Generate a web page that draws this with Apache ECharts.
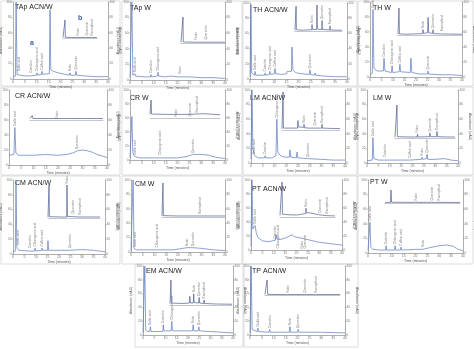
<!DOCTYPE html>
<html><head><meta charset="utf-8">
<script src="https://cdn.jsdelivr.net/npm/echarts/dist/echarts.min.js"></script>
<style>html,body{margin:0;padding:0;background:#fff}#c{width:474px;height:349px}</style>
</head><body><div id="c"></div>
<script>
// ---- chromatogram traces: [time (min), absorbance (% of full scale)] ----
const tapAcnMain = [[0,3],[1.0,4],[1.3,100],[1.7,6],[2.3,5],[2.5,8],[2.8,5],[5,4],[7.4,4],[7.6,6],[7.9,4],[9.9,5],[10.1,8],[10.4,5],[12,6],[12.2,10],[12.5,6],[15.3,7],[15.6,90],[15.9,12],[17,10],[19,8],[22,6],[23.8,5],[24,8],[24.3,5],[26.3,5],[26.5,10],[26.8,5],[30,4],[35,3],[40,3]];
const tapAcnInset = [[0,3],[2.2,3],[2.4,100],[2.7,4],[10,3],[17.4,3],[17.6,6],[17.9,3],[27.8,3],[28,5],[28.3,3],[33.8,3],[34,5],[34.3,3],[40,3]];
const tapAcnPeaks = [[2.5,'Gallic acid'],[7.6,'Catechin'],[10.1,'Chlorogenic acid'],[12.2,'Caffeic acid'],[24,'Rutin'],[26.5,'Quercetin']];
const tapAcnInsetPeaks = [[17.6,'Rutin'],[28,'Quercetin'],[34,'Kaempferol']];

const tapWMain = [[0,3],[0.5,4],[0.8,100],[1.2,6],[1.9,5],[2.1,8],[2.4,5],[6,4],[8.6,4],[8.8,7],[9.1,4],[11.6,5],[11.8,10],[12.1,5],[15,4],[17,5],[20.8,4],[21,6],[21.3,4],[25,4],[30,3],[35,3],[40,2]];
const tapWInset = [[0,3],[1.6,3],[1.8,100],[2.1,4],[13.4,3],[13.6,8],[13.9,3],[22.5,3],[22.7,8],[23,3],[40,3]];
const tapWPeaks = [[2.1,'Gallic acid'],[8.8,'Catechin'],[11.8,'Chlorogenic acid'],[21,'Rutin']];
const tapWInsetPeaks = [[13.6,'Rutin'],[22.7,'Quercetin']];

const thAcnMain = [[0,3],[0.2,4],[0.4,98],[0.7,8],[1.9,5],[2.1,10],[2.4,5],[6,5],[6.2,8],[6.5,5],[8,6],[8.2,10],[8.5,6],[10.1,7],[10.3,14],[10.6,7],[13,6],[15.1,7],[15.3,10],[15.6,8],[17.1,10],[17.3,42],[17.7,12],[19,8],[21.2,7],[21.4,8],[21.7,6],[24.5,6],[24.7,12],[25,6],[26.6,5],[26.8,8],[27.1,5],[30,4],[35,3],[40,3]];
const thAcnInset = [[0,3],[0.7,3],[0.9,95],[1.2,5],[5,3],[10,4],[14.3,5],[14.5,25],[14.8,6],[16,5],[18.5,6],[18.7,100],[19,8],[21,6],[22.8,6],[23,40],[23.3,6],[29.6,4],[29.8,20],[30.1,4],[35,3],[40,3]];
const thAcnPeaks = [[2.1,'Gallic acid'],[6.2,'Catechin'],[8.2,'Chlorogenic acid'],[10.3,'Caffeic acid'],[24.7,'Quercetin']];
const thAcnInsetPeaks = [[14.5,'Rutin'],[23,'Quercetin'],[29.8,'Kaempferol']];

const thWMain = [[0,3],[1,5],[1.3,90],[1.7,12],[3,8],[5.8,8],[6.1,25],[6.5,8],[9.3,6],[9.6,15],[9.9,6],[12.7,7],[13,17],[13.3,7],[17.5,6],[17.8,25],[18.2,6],[21.5,4],[21.7,5],[22,4],[25,4],[25.2,8],[25.5,4],[30,3],[35,3],[40,2]];
const thWInset = [[0,3],[0.4,3],[0.6,100],[0.9,4],[5.4,3],[5.6,5],[6,3],[10.4,4],[10.6,10],[11,4],[15.4,5],[15.6,20],[16,6],[18.5,8],[18.8,65],[19.2,8],[21.7,6],[21.9,20],[22.2,5],[27.3,4],[27.5,8],[27.8,4],[35,3],[40,3]];
const thWPeaks = [[1.3,'Gallic acid'],[6.1,'Catechin'],[9.6,'Chlorogenic acid'],[13,'Caffeic acid'],[25.2,'Quercetin']];
const thWInsetPeaks = [[15.6,'Rutin'],[21.9,'Quercetin'],[27.5,'Kaempferol']];

const crAcnMain = [[0,13],[2,14],[2.4,50],[2.8,16],[4,13],[10,13],[15,14],[20,13],[23.5,14],[26,16],[28,19],[30,20],[32,19],[34,17],[36,14],[38,12],[40,10]];
const crAcnInset = [[0,10],[0.8,10],[1.2,30],[1.6,10],[10,10],[20,10],[30,10],[40,10]];
const crAcnPeaks = [[2.4,'Gallic acid'],[27.8,'Quercetin']];
const crAcnInsetPeaks = [[14.8,'Rutin']];

const crWMain = [[0,3],[0.5,5],[0.8,62],[1.2,10],[2,5],[4,3],[10,3],[12.4,3],[12.6,5],[12.9,3],[20,3],[24,5],[26.5,8],[30,8],[33,7],[36,4],[40,2]];
const crWInset = [[0,20],[0.4,20],[0.6,100],[0.9,22],[10,20],[20,20],[27,22],[30,24],[34,22],[40,18]];
const crWPeaks = [[2.1,'Gallic acid'],[12.6,'Chlorogenic acid'],[26.5,'Quercetin']];
const crWInsetPeaks = [[14.9,'Rutin'],[22.9,'Quercetin'],[26.9,'Kaempferol']];

const lmAcnMain = [[0,5],[0.2,6],[0.4,100],[0.8,20],[1.5,10],[3,7],[5.8,7],[6,10],[6.3,7],[9,7],[10.6,10],[11,60],[11.4,15],[12.5,10],[14.3,8],[14.5,9],[14.8,8],[16.3,8],[16.6,18],[16.9,8],[19.3,7],[19.6,15],[19.9,7],[24,6],[24.3,5],[30,5],[35,4],[40,4]];
const lmAcnInset = [[0,3],[0.5,3],[0.7,100],[1,5],[10.7,5],[11,25],[11.3,8],[15,7],[15.2,15],[15.5,6],[18.4,5],[18.6,8],[18.9,5],[22.6,5],[22.8,8],[23.1,5],[27.4,5],[27.6,15],[27.9,5],[35,4],[40,4]];
const lmAcnPeaks = [[1.5,'Gallic acid'],[6,'Catechin'],[11,'Chlorogenic acid'],[24.3,'Quercetin']];
const lmAcnInsetPeaks = [[15.2,'Rutin'],[22.8,'Quercetin'],[27.6,'Kaempferol']];

const lmWMain = [[0,3],[2.3,4],[2.6,35],[3,6],[5,4],[7.7,4],[7.9,6],[8.2,4],[15,4],[18.7,4],[18.9,5],[19.2,4],[24,5],[24.2,8],[24.5,5],[26.2,6],[26.4,12],[26.7,5],[30,5],[34,6],[37,4],[40,3]];
const lmWInset = [[0,3],[1.1,3],[1.3,100],[1.6,4],[10,3],[14.8,3],[15,12],[15.3,3],[23.1,4],[23.3,15],[23.6,4],[27.8,4],[28,20],[28.3,4],[35,3],[40,3]];
const lmWPeaks = [[2.6,'Gallic acid'],[7.9,'Catechin'],[18.9,'Caffeic acid'],[24.2,'Rutin'],[26.4,'Quercetin']];
const lmWInsetPeaks = [[15,'Rutin'],[23.3,'Quercetin'],[28,'Kaempferol']];

const cmAcnMain = [[0,3],[1,4],[1.3,100],[1.7,8],[2,8],[2.2,10],[2.5,5],[7.2,4],[7.4,6],[7.7,4],[9.4,4],[9.6,8],[9.9,4],[12.4,5],[12.6,8],[12.9,5],[15,5],[15.2,18],[15.5,5],[20,5],[24.6,5],[24.8,6],[25.1,5],[30,6],[35,5],[40,3]];
const cmAcnInset = [[0,3],[0.6,3],[0.8,100],[1.1,4],[10,3],[14.4,3],[14.6,100],[14.9,5],[19,4],[19.2,8],[19.5,4],[24.4,3],[24.6,5],[24.9,3],[40,3]];
const cmAcnPeaks = [[2.2,'Gallic acid'],[7.4,'Catechin'],[9.6,'Chlorogenic acid'],[12.6,'Caffeic acid'],[24.8,'Quercetin']];
const cmAcnInsetPeaks = [[14.6,'Rutin'],[19.2,'Quercetin'],[24.6,'Kaempferol']];

const cmWMain = [[0,2],[0.6,3],[0.9,100],[1.3,5],[1.7,5],[2.2,3],[10.8,3],[11,4],[11.3,3],[18,3],[22,5],[23.8,6],[26.4,6],[30,5],[35,3],[40,2]];
const cmWInset = [[0,3],[0.4,3],[0.6,100],[0.9,4],[10,3],[23.8,3],[24,5],[24.3,3],[40,3]];
const cmWPeaks = [[1.7,'Gallic acid'],[11,'Chlorogenic acid'],[23.8,'Rutin'],[26.4,'Quercetin']];
const cmWInsetPeaks = [[24,'Kaempferol']];

const ptAcnMain = [[0,5],[0.2,6],[0.4,100],[0.8,30],[1.5,32],[1.8,35],[2.3,25],[3,18],[5,13],[8,12],[10.7,14],[11,22],[11.3,16],[12.8,15],[15,17],[17,20],[18,22],[19,19],[22,17],[26,14],[30,11],[35,9],[40,7]];
const ptAcnInset = [[0,5],[1.3,5],[1.5,100],[1.8,8],[8,6],[12.8,6],[13,10],[13.3,6],[16,8],[18.7,10],[18.9,25],[19.2,12],[21.6,12],[21.8,15],[22.1,8],[28.8,6],[29,8],[29.3,5],[33.8,4],[34,5],[40,3]];
const ptAcnPeaks = [[1.8,'Gallic acid'],[10.5,'Catechin'],[12,'Chlorogenic acid'],[22.5,'Rutin'],[23.7,'Quercetin']];
const ptAcnInsetPeaks = [[18.9,'Rutin'],[29,'Quercetin'],[34,'Kaempferol']];

const ptWMain = [[0,3],[0.5,5],[0.8,42],[1.2,8],[2,5],[5,4],[7.4,4],[7.6,10],[7.9,4],[11.2,4],[11.4,10],[11.7,4],[13.7,4],[13.9,8],[14.2,4],[20,5],[23,5],[23.2,6],[23.5,6],[27,8],[30,10],[33,11],[36,9],[38,5],[40,3]];
const ptWInset = [[0,5],[2.9,5],[3.2,100],[3.5,6],[10,5],[16.3,5],[16.5,8],[16.8,5],[24.8,5],[25,8],[25.3,5],[28.8,5],[29,8],[29.3,5],[40,4]];
const ptWPeaks = [[0.8,'Gallic acid'],[7.6,'Catechin'],[11.4,'Chlorogenic acid'],[13.9,'Caffeic acid'],[23.2,'Rutin']];
const ptWInsetPeaks = [[16.5,'Rutin'],[25,'Quercetin'],[29,'Kaempferol']];

const emAcnMain = [[0,3],[0.5,5],[0.8,100],[1.2,8],[2,5],[3,5],[3.3,12],[3.6,5],[8.8,5],[9,15],[9.3,6],[12.5,6],[12.8,20],[13.1,6],[16,6],[22,6],[22.3,15],[22.6,6],[24.5,6],[24.8,12],[25.1,6],[30,5],[35,4],[40,3]];
const emAcnInset = [[0,5],[0.3,5],[0.6,100],[0.9,8],[8,6],[12.5,8],[12.8,35],[13.1,8],[15,8],[15.3,45],[15.6,10],[18.5,8],[18.8,30],[19.1,8],[21.8,6],[22,20],[22.3,6],[30,4],[40,3]];
const emAcnPeaks = [[3.3,'Gallic acid'],[9,'Catechin'],[12.8,'Chlorogenic acid'],[22.3,'Rutin'],[24.8,'Quercetin']];
const emAcnInsetPeaks = [[15.3,'Rutin'],[18.8,'Quercetin'],[22,'Kaempferol']];

const tpAcnMain = [[0,3],[0.2,5],[0.5,100],[0.9,8],[3,5],[3.3,10],[3.6,5],[8,4],[8.3,8],[8.6,4],[16.5,4],[16.8,12],[17.1,4],[20,4],[20.3,8],[20.6,4],[30,4],[40,3]];
const tpAcnInset = [[0,3],[0.8,3],[1.1,100],[1.4,4],[10,3],[12,3],[12.3,6],[12.6,3],[20,3],[21,3],[21.3,5],[21.6,3],[27,3],[27.3,5],[27.6,3],[40,3]];
const tpAcnPeaks = [[3.3,'Gallic acid'],[8.3,'Catechin'],[16.8,'Rutin'],[20.3,'Quercetin']];
const tpAcnInsetPeaks = [[12.3,'Rutin'],[21.3,'Quercetin'],[27.3,'Kaempferol']];

const panelTitles = ['TAp ACN/W','TAp W','TH ACN/W','TH W','CR ACN/W','CR W','LM ACN/W','LM W','CM ACN/W','CM W','PT ACN/W','PT W','EM ACN/W','TP ACN/W'];
const timeAxis = {min: 0, max: 40, interval: 5};
const absAxis = {min: 0, max: 100, interval: 20};

// ---- page layout (pixels): frame box, main plot box, overlay trace box, title anchor ----
const layout = [
  {box:[1,1,120,86],   plot:[13,2,108,79],   inset:[63,20,97,38],    title:[15,4]},
  {box:[122,1,242,86], plot:[130,2,225,80],  inset:[181,17,225,43],  title:[130,5]},
  {box:[243,1,357,86], plot:[250,3,347,79],  inset:[295,5,342,31],   title:[253,7]},
  {box:[358,1,473,86], plot:[370,2,462,77],  inset:[398,8,462,35],   title:[373,5]},
  {box:[1,87,120,175], plot:[9,90,107,165],  inset:[30,105,103,120], title:[15,93]},
  {box:[122,87,242,175],plot:[130,90,225,160],inset:[150,100,220,118],title:[130,95]},
  {box:[243,87,357,175],plot:[251,90,345,163],inset:[282,92,340,130],title:[250,95]},
  {box:[358,87,473,175],plot:[367,90,458,163],inset:[395,105,455,138],title:[373,95]},
  {box:[1,176,120,264],plot:[13,180,105,254],inset:[48,185,100,218], title:[15,180]},
  {box:[122,176,242,264],plot:[131,180,225,252],inset:[162,183,225,217],title:[135,181]},
  {box:[243,176,357,264],plot:[251,180,342,250],inset:[280,182,335,217],title:[252,186]},
  {box:[358,176,473,264],plot:[368,180,463,253],inset:[385,190,460,203],title:[370,179]},
  {box:[135,264,243,347],plot:[143,266,233,335],inset:[170,280,232,305],title:[146,268]},
  {box:[244,264,358,347],plot:[250,266,345,335],inset:[265,280,340,295],title:[252,268]}
];

const traces = [
  [tapAcnMain, tapAcnInset, tapAcnPeaks, tapAcnInsetPeaks],
  [tapWMain, tapWInset, tapWPeaks, tapWInsetPeaks],
  [thAcnMain, thAcnInset, thAcnPeaks, thAcnInsetPeaks],
  [thWMain, thWInset, thWPeaks, thWInsetPeaks],
  [crAcnMain, crAcnInset, crAcnPeaks, crAcnInsetPeaks],
  [crWMain, crWInset, crWPeaks, crWInsetPeaks],
  [lmAcnMain, lmAcnInset, lmAcnPeaks, lmAcnInsetPeaks],
  [lmWMain, lmWInset, lmWPeaks, lmWInsetPeaks],
  [cmAcnMain, cmAcnInset, cmAcnPeaks, cmAcnInsetPeaks],
  [cmWMain, cmWInset, cmWPeaks, cmWInsetPeaks],
  [ptAcnMain, ptAcnInset, ptAcnPeaks, ptAcnInsetPeaks],
  [ptWMain, ptWInset, ptWPeaks, ptWInsetPeaks],
  [emAcnMain, emAcnInset, emAcnPeaks, emAcnInsetPeaks],
  [tpAcnMain, tpAcnInset, tpAcnPeaks, tpAcnInsetPeaks]
];

const MAIN_COLOR = '#5a78c0';
const INSET_COLOR = '#4f5b92';
const AXIS_COLOR = '#7a7a7a';
const LABEL_COLOR = '#555';
const FONT = 'Liberation Sans, Arial, sans-serif';

// height of a trace near a labelled retention time
function peakTop(trace, t) {
  let m = 0;
  for (const p of trace) if (Math.abs(p[0] - t) <= 0.45) m = Math.max(m, p[1]);
  return m;
}

const grid = [], xAxis = [], yAxis = [], series = [], graphic = [];

function rect(r) { return {left: r[0], top: r[1], width: r[2] - r[0], height: r[3] - r[1]}; }

function labelSeries(xi, yi, trace, peaks) {
  return {
    type: 'scatter', xAxisIndex: xi, yAxisIndex: yi, symbolSize: 0, silent: true,
    data: peaks.map(p => [p[0], peakTop(trace, p[0]), p[1]]),
    label: {show: true, formatter: p => p.data[2], position: 'top', distance: 1.5, rotate: 90,
      align: 'left', verticalAlign: 'middle', fontSize: 3.2, color: LABEL_COLOR, fontFamily: FONT}
  };
}

layout.forEach((L, i) => {
  const [main, inset, peaks, insetPeaks] = traces[i];
  // main chromatogram
  const g = grid.length;
  grid.push(Object.assign(rect(L.plot), {outerBoundsMode: 'none'}));
  const xi = xAxis.length;
  xAxis.push({gridIndex: g, type: 'value', min: timeAxis.min, max: timeAxis.max, interval: timeAxis.interval,
    axisLine: {lineStyle: {color: AXIS_COLOR, width: 0.6}}, axisTick: {length: 1.5, lineStyle: {width: 0.4}},
    axisLabel: {fontSize: 3.5, margin: 1.5, color: '#777', fontFamily: FONT}, splitLine: {show: false},
    name: 'Time (minutes)', nameLocation: 'middle', nameGap: 6, nameTextStyle: {fontSize: 3.5, color: '#555', fontFamily: FONT}});
  const yi = yAxis.length;
  yAxis.push({gridIndex: g, type: 'value', min: absAxis.min, max: absAxis.max, interval: absAxis.interval, position: 'left',
    axisLine: {show: true, lineStyle: {color: AXIS_COLOR, width: 0.6}}, axisTick: {show: true, length: 1.5, lineStyle: {width: 0.4}},
    axisLabel: {fontSize: 3.2, margin: 1.5, color: '#777', fontFamily: FONT}, splitLine: {show: false},
    name: 'Absorbance (mAU)', nameLocation: 'middle', nameGap: 7, nameRotate: 90, nameTextStyle: {fontSize: 3.2, color: '#555', fontFamily: FONT}});
  yAxis.push({gridIndex: g, type: 'value', min: absAxis.min, max: absAxis.max, interval: absAxis.interval, position: 'right',
    axisLine: {show: true, lineStyle: {color: AXIS_COLOR, width: 0.6}}, axisTick: {show: true, length: 1.5, lineStyle: {width: 0.4}},
    axisLabel: {fontSize: 3.2, margin: 1.5, color: '#777', fontFamily: FONT}, splitLine: {show: false},
    name: 'Absorbance (mAU)', nameLocation: 'middle', nameGap: 7, nameRotate: -90, nameTextStyle: {fontSize: 3.2, color: '#555', fontFamily: FONT}});
  series.push({type: 'line', xAxisIndex: xi, yAxisIndex: yi, data: main, showSymbol: false, silent: true,
    lineStyle: {width: 0.7, color: MAIN_COLOR}, clip: true});
  series.push(labelSeries(xi, yi, main, peaks));

  // overlaid second-wavelength chromatogram
  const g2 = grid.length;
  grid.push(Object.assign(rect(L.inset), {outerBoundsMode: 'none'}));
  const xi2 = xAxis.length;
  xAxis.push({gridIndex: g2, type: 'value', min: timeAxis.min, max: timeAxis.max, interval: timeAxis.interval,
    axisLine: {lineStyle: {color: '#8a8a9a', width: 0.5}}, axisTick: {show: false}, axisLabel: {show: false}, splitLine: {show: false}});
  const yi2 = yAxis.length;
  yAxis.push({gridIndex: g2, type: 'value', min: absAxis.min, max: absAxis.max, interval: absAxis.interval,
    axisLine: {show: false}, axisTick: {show: false}, axisLabel: {show: false}, splitLine: {show: false}});
  series.push({type: 'line', xAxisIndex: xi2, yAxisIndex: yi2, data: inset, showSymbol: false, silent: true,
    lineStyle: {width: 0.7, color: INSET_COLOR}});
  series.push(labelSeries(xi2, yi2, inset, insetPeaks));

  // panel frame and title
  graphic.push({type: 'rect', shape: {x: L.box[0], y: L.box[1], width: L.box[2] - L.box[0], height: L.box[3] - L.box[1]},
    style: {fill: 'none', stroke: '#c8c8c8', lineWidth: 0.6}, silent: true});
  graphic.push({type: 'text', x: L.title[0], y: L.title[1],
    style: {text: panelTitles[i], font: '7px ' + FONT, fill: '#1a1a1a'}, silent: true});
});

// sub-figure letters in the first panel
graphic.push({type: 'text', x: 30, y: 40, style: {text: 'a', font: 'bold 7px ' + FONT, fill: '#3a5cae'}});
graphic.push({type: 'text', x: 78, y: 15, style: {text: 'b', font: 'bold 7px ' + FONT, fill: '#3a5cae'}});

const chart = echarts.init(document.getElementById('c'), null, {renderer: 'canvas'});
chart.setOption({animation: false, backgroundColor: '#fff', grid, xAxis, yAxis, series, graphic});
</script></body></html>
